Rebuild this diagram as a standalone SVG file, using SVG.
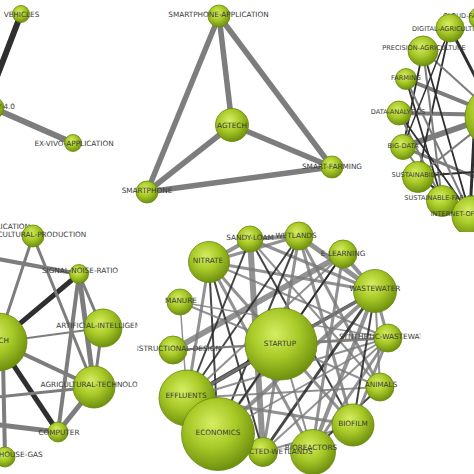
<svg xmlns="http://www.w3.org/2000/svg" width="474" height="474" viewBox="0 0 474 474">
<defs>
<radialGradient id="g" cx="0.42" cy="0.36" r="0.66">
<stop offset="0" stop-color="#d6ee62"/>
<stop offset="0.5" stop-color="#a8c927"/>
<stop offset="1" stop-color="#6c8d0e"/>
</radialGradient>
<clipPath id="c4"><rect x="0" y="215" width="137.5" height="259"/></clipPath>
<clipPath id="c5"><rect x="137.5" y="215" width="283" height="259"/></clipPath>
<clipPath id="c3"><rect x="360" y="0" width="114" height="232"/></clipPath>
</defs>
<style>
circle{fill:url(#g);stroke:#688a0c;stroke-width:0.8}
text{font-family:"DejaVu Sans","Liberation Sans",sans-serif;font-size:7.3px;fill:#3a3a3a;text-anchor:middle}
.s text{font-size:6.6px}
line{stroke-linecap:butt}
.e line{stroke:#7d7d7d}
.e .k{stroke:#2f2f2f}
.e5 line{stroke:#7a7a7a;stroke-opacity:0.82}
.e5 .k{stroke:#262626;stroke-opacity:0.85}
</style>
<rect width="474" height="474" fill="#ffffff"/>

<!-- Panel 1 -->
<g id="connectors-1" class="e">
<line class="k" x1="21" y1="14" x2="-12" y2="100" stroke-width="6"/>
<line x1="-7" y1="108" x2="73" y2="143" stroke-width="6"/>
</g>
<g id="vehicles"><circle cx="21" cy="14" r="8.5"/><text x="21.5" y="16.5">VEHICLES</text></g>
<g id="industry-4"><circle cx="-7" cy="108" r="11"/><text x="15" y="109" style="text-anchor:end">INDUSTRY-4.0</text></g>
<g id="ex-vivo-application"><circle cx="73" cy="143" r="8.5"/><text x="74" y="145.5">EX-VIVO-APPLICATION</text></g>

<!-- Panel 2 -->
<g id="connectors-2" class="e" stroke-width="5.5">
<line x1="219" y1="16" x2="232" y2="125"/>
<line x1="219" y1="16" x2="332" y2="167"/>
<line x1="219" y1="16" x2="147" y2="192"/>
<line x1="232" y1="125" x2="332" y2="167"/>
<line x1="232" y1="125" x2="147" y2="192"/>
<line x1="332" y1="167" x2="147" y2="192"/>
</g>
<g id="smartphone-application"><circle cx="219" cy="16" r="11"/><text x="218.5" y="16.5">SMARTPHONE-APPLICATION</text></g>
<g id="agtech"><circle cx="232" cy="125" r="16.5"/><text x="232" y="127.5">AGTECH</text></g>
<g id="smart-farming"><circle cx="332" cy="167" r="11"/><text x="332" y="168.5">SMART-FARMING</text></g>
<g id="smartphone"><circle cx="147" cy="192" r="11"/><text x="147" y="193">SMARTPHONE</text></g>

<!-- Panel 3 -->
<g clip-path="url(#c3)">
<g id="connectors-3" class="e">
<line x1="406" y1="79" x2="495" y2="115" stroke-width="4"/>
<line x1="399" y1="113" x2="495" y2="115" stroke-width="4"/>
<line x1="403" y1="147" x2="495" y2="115" stroke-width="6"/>
<line x1="403" y1="147" x2="530" y2="200" stroke-width="3"/>
<line class="k" x1="418" y1="176" x2="530" y2="168" stroke-width="1.8"/>
<line class="k" x1="450" y1="28" x2="495" y2="115" stroke-width="3"/>
<line class="k" x1="450" y1="28" x2="418" y2="176" stroke-width="1.8"/>
<line class="k" x1="423" y1="50" x2="403" y2="147" stroke-width="1.8"/>
<line x1="423" y1="50" x2="442" y2="200" stroke-width="2"/>
<line class="k" x1="423" y1="50" x2="470" y2="214" stroke-width="1.8"/>
<line class="k" x1="406" y1="79" x2="442" y2="200" stroke-width="1.8"/>
<line x1="406" y1="79" x2="470" y2="214" stroke-width="2"/>
<line class="k" x1="399" y1="113" x2="470" y2="214" stroke-width="1.8"/>
<line x1="399" y1="113" x2="442" y2="200" stroke-width="2"/>
<line x1="403" y1="147" x2="442" y2="200" stroke-width="2"/>
<line class="k" x1="418" y1="176" x2="470" y2="214" stroke-width="1.8"/>
<line x1="423" y1="50" x2="495" y2="115" stroke-width="2"/>
<line class="k" x1="450" y1="28" x2="403" y2="147" stroke-width="1.5"/>
<line class="k" x1="480" y1="18" x2="470" y2="214" stroke-width="3"/>
<line x1="418" y1="176" x2="495" y2="115" stroke-width="2"/>
</g>
<g class="s">
<g id="cloud-farming"><circle cx="480" cy="18" r="11"/><text x="443" y="18" style="text-anchor:start">CLOUD-FARMING</text></g>
<g id="big-node"><circle cx="497" cy="117" r="32"/></g>
<g id="digital-agriculture"><circle cx="450" cy="28" r="14"/><text x="412" y="31" style="text-anchor:start">DIGITAL-AGRICULTURE</text></g>
<g id="precision-agriculture"><circle cx="423" cy="51" r="15"/><text x="424" y="50">PRECISION-AGRICULTURE</text></g>
<g id="farming"><circle cx="406" cy="79" r="10.5"/><text x="406" y="80">FARMING</text></g>
<g id="data-analytics"><circle cx="399" cy="113" r="12"/><text x="398" y="113.5">DATA-ANALYTICS</text></g>
<g id="big-data"><circle cx="403" cy="147" r="12.5"/><text x="403" y="147.5">BIG-DATA</text></g>
<g id="sustainability"><circle cx="418" cy="177" r="15.5"/><text x="418" y="176.5">SUSTAINABILITY</text></g>
<g id="sustainable-farming"><circle cx="442" cy="201" r="15.5"/><text x="443" y="199.5">SUSTAINABLE-FARMING</text></g>
<g id="internet-of-things"><circle cx="472" cy="216" r="20"/><text x="466" y="215.5">INTERNET-OF-THINGS</text></g>
</g>
</g>

<!-- Panel 4 -->
<g clip-path="url(#c4)">
<g id="connectors-4" class="e">
<line class="k" x1="-2" y1="342" x2="79" y2="274" stroke-width="5"/>
<line class="k" x1="-2" y1="342" x2="58" y2="432" stroke-width="5"/>
<line x1="-2" y1="342" x2="33" y2="236" stroke-width="3"/>
<line x1="-2" y1="342" x2="102" y2="328" stroke-width="2"/>
<line x1="-2" y1="342" x2="94" y2="387" stroke-width="4"/>
<line x1="33" y1="236" x2="94" y2="387" stroke-width="3"/>
<line x1="-40" y1="252" x2="79" y2="274" stroke-width="4"/>
<line x1="79" y1="274" x2="58" y2="432" stroke-width="4"/>
<line x1="79" y1="274" x2="94" y2="387" stroke-width="5"/>
<line x1="79" y1="274" x2="102" y2="328" stroke-width="3"/>
<line x1="102" y1="328" x2="94" y2="387" stroke-width="3"/>
<line x1="94" y1="387" x2="58" y2="432" stroke-width="5"/>
<line x1="-40" y1="401" x2="94" y2="387" stroke-width="3"/>
<line x1="-40" y1="420" x2="58" y2="432" stroke-width="5"/>
<line x1="5" y1="457" x2="3" y2="360" stroke-width="4"/>
</g>
<g id="application"><text x="30" y="229" style="text-anchor:end">APPLICATION</text></g>
<g id="agtech-2"><circle cx="-2" cy="342" r="29"/><text x="-6" y="342.5">AGTECH</text></g>
<g id="agricultural-production"><circle cx="33" cy="236" r="11"/><text x="33" y="236.5">AGRICULTURAL-PRODUCTION</text></g>
<g id="signal-noise-ratio"><circle cx="79" cy="274" r="9.5"/><text x="80" y="272.5">SIGNAL-NOISE-RATIO</text></g>
<g id="artificial-intelligence"><circle cx="103" cy="328" r="19"/><text x="103" y="327.5">ARTIFICIAL-INTELLIGENCE</text></g>
<g id="agricultural-technology"><circle cx="94" cy="387" r="21"/><text x="94" y="386.5">AGRICULTURAL-TECHNOLOGY</text></g>
<g id="computer"><circle cx="58" cy="432" r="10"/><text x="59" y="434.5">COMPUTER</text></g>
<g id="greenhouse-gas"><circle cx="5" cy="457" r="10"/><text x="8" y="457">GREENHOUSE-GAS</text></g>
</g>

<!-- Panel 5 -->
<g clip-path="url(#c5)">
<g id="connectors-5" class="e5">
<line x1="250" y1="239" x2="263" y2="452" stroke-width="6"/>
<line x1="173" y1="350" x2="343" y2="254" stroke-width="6"/>
<line class="k" x1="187" y1="398" x2="281" y2="344" stroke-width="4.5"/>
<line class="k" x1="343" y1="254" x2="281" y2="344" stroke-width="1.5"/>
<line class="k" x1="375" y1="291" x2="281" y2="344" stroke-width="3.5"/>
<line x1="209" y1="262" x2="281" y2="344" stroke-width="3"/>
<line x1="209" y1="262" x2="299" y2="236" stroke-width="3"/>
<line x1="209" y1="262" x2="250" y2="239" stroke-width="4"/>
<line x1="209" y1="262" x2="375" y2="291" stroke-width="3"/>
<line x1="209" y1="262" x2="388" y2="338" stroke-width="2"/>
<line class="k" x1="209" y1="262" x2="218" y2="434" stroke-width="2"/>
<line x1="209" y1="262" x2="187" y2="398" stroke-width="3"/>
<line class="k" x1="209" y1="262" x2="263" y2="452" stroke-width="2"/>
<line x1="209" y1="262" x2="312" y2="451" stroke-width="3"/>
<line x1="250" y1="239" x2="299" y2="236" stroke-width="4"/>
<line x1="250" y1="239" x2="375" y2="291" stroke-width="3"/>
<line class="k" x1="250" y1="239" x2="353" y2="425" stroke-width="2"/>
<line class="k" x1="250" y1="239" x2="187" y2="398" stroke-width="2"/>
<line x1="250" y1="239" x2="380" y2="387" stroke-width="2"/>
<line x1="299" y1="236" x2="281" y2="344" stroke-width="3"/>
<line class="k" x1="299" y1="236" x2="187" y2="398" stroke-width="2"/>
<line x1="299" y1="236" x2="353" y2="425" stroke-width="3"/>
<line class="k" x1="299" y1="236" x2="218" y2="434" stroke-width="2"/>
<line x1="299" y1="236" x2="380" y2="387" stroke-width="3"/>
<line x1="299" y1="236" x2="375" y2="291" stroke-width="5"/>
<line x1="180" y1="302" x2="281" y2="344" stroke-width="2"/>
<line x1="180" y1="302" x2="187" y2="398" stroke-width="1.5"/>
<line x1="180" y1="302" x2="388" y2="338" stroke-width="1.5"/>
<line x1="173" y1="350" x2="281" y2="344" stroke-width="2"/>
<line x1="173" y1="350" x2="388" y2="338" stroke-width="2"/>
<line x1="187" y1="398" x2="375" y2="291" stroke-width="3"/>
<line x1="187" y1="398" x2="388" y2="338" stroke-width="2"/>
<line x1="187" y1="398" x2="380" y2="387" stroke-width="2"/>
<line x1="187" y1="398" x2="353" y2="425" stroke-width="3"/>
<line x1="187" y1="398" x2="343" y2="254" stroke-width="2"/>
<line x1="218" y1="434" x2="375" y2="291" stroke-width="4"/>
<line x1="218" y1="434" x2="388" y2="338" stroke-width="2"/>
<line x1="218" y1="434" x2="281" y2="344" stroke-width="3"/>
<line class="k" x1="218" y1="434" x2="343" y2="254" stroke-width="2"/>
<line class="k" x1="263" y1="452" x2="375" y2="291" stroke-width="3"/>
<line x1="263" y1="452" x2="388" y2="338" stroke-width="2"/>
<line x1="263" y1="452" x2="281" y2="344" stroke-width="3"/>
<line x1="263" y1="452" x2="353" y2="425" stroke-width="2"/>
<line x1="312" y1="451" x2="375" y2="291" stroke-width="4"/>
<line x1="312" y1="451" x2="281" y2="344" stroke-width="2"/>
<line x1="312" y1="451" x2="343" y2="254" stroke-width="3"/>
<line x1="312" y1="451" x2="388" y2="338" stroke-width="3"/>
<line class="k" x1="312" y1="451" x2="380" y2="387" stroke-width="2"/>
<line x1="343" y1="254" x2="375" y2="291" stroke-width="4"/>
<line x1="375" y1="291" x2="388" y2="338" stroke-width="3"/>
<line class="k" x1="375" y1="291" x2="353" y2="425" stroke-width="2"/>
<line x1="375" y1="291" x2="380" y2="387" stroke-width="2"/>
<line x1="388" y1="338" x2="353" y2="425" stroke-width="3"/>
<line x1="380" y1="387" x2="281" y2="344" stroke-width="2"/>
<line x1="353" y1="425" x2="281" y2="344" stroke-width="3"/>
<line x1="281" y1="344" x2="388" y2="338" stroke-width="3"/>
</g>
<g id="nitrate"><circle cx="209" cy="262" r="20.5"/><text x="208" y="262.5">NITRATE</text></g>
<g id="sandy-loam"><circle cx="250" cy="239" r="13"/><text x="250" y="239.5">SANDY-LOAM</text></g>
<g id="wetlands"><circle cx="299" cy="236" r="14"/><text x="296" y="238">WETLANDS</text></g>
<g id="manure"><circle cx="180" cy="302" r="13"/><text x="181" y="302.5">MANURE</text></g>
<g id="instructional-design"><circle cx="173" cy="350" r="14"/><text x="176" y="350.5">INSTRUCTIONAL-DESIGN</text></g>
<g id="startup"><circle cx="281" cy="344" r="36"/><text x="280" y="345.5">STARTUP</text></g>
<g id="e-learning"><circle cx="343" cy="254" r="14"/><text x="343" y="255.5">E-LEARNING</text></g>
<g id="wastewater"><circle cx="375" cy="291" r="21.5"/><text x="375" y="290.5">WASTEWATER</text></g>
<g id="synthetic-wastewater"><circle cx="388" cy="338" r="14"/><text x="386" y="338.5">SYNTHETIC-WASTEWATER</text></g>
<g id="animals"><circle cx="380" cy="387" r="14"/><text x="381" y="386.5">ANIMALS</text></g>
<g id="biofilm"><circle cx="353" cy="425" r="21"/><text x="353" y="425.5">BIOFILM</text></g>
<g id="effluents"><circle cx="187" cy="398" r="28"/><text x="186" y="397.5">EFFLUENTS</text></g>
<g id="bioreactors"><circle cx="313" cy="452" r="22.5"/><text x="311" y="449.5">BIOREACTORS</text></g>
<g id="constructed-wetlands"><circle cx="263" cy="452" r="14.5"/><text x="263" y="453.5">CONSTRUCTED-WETLANDS</text></g>
<g id="economics"><circle cx="218" cy="434" r="36.5"/><text x="218" y="434.5">ECONOMICS</text></g>
</g>
</svg>
